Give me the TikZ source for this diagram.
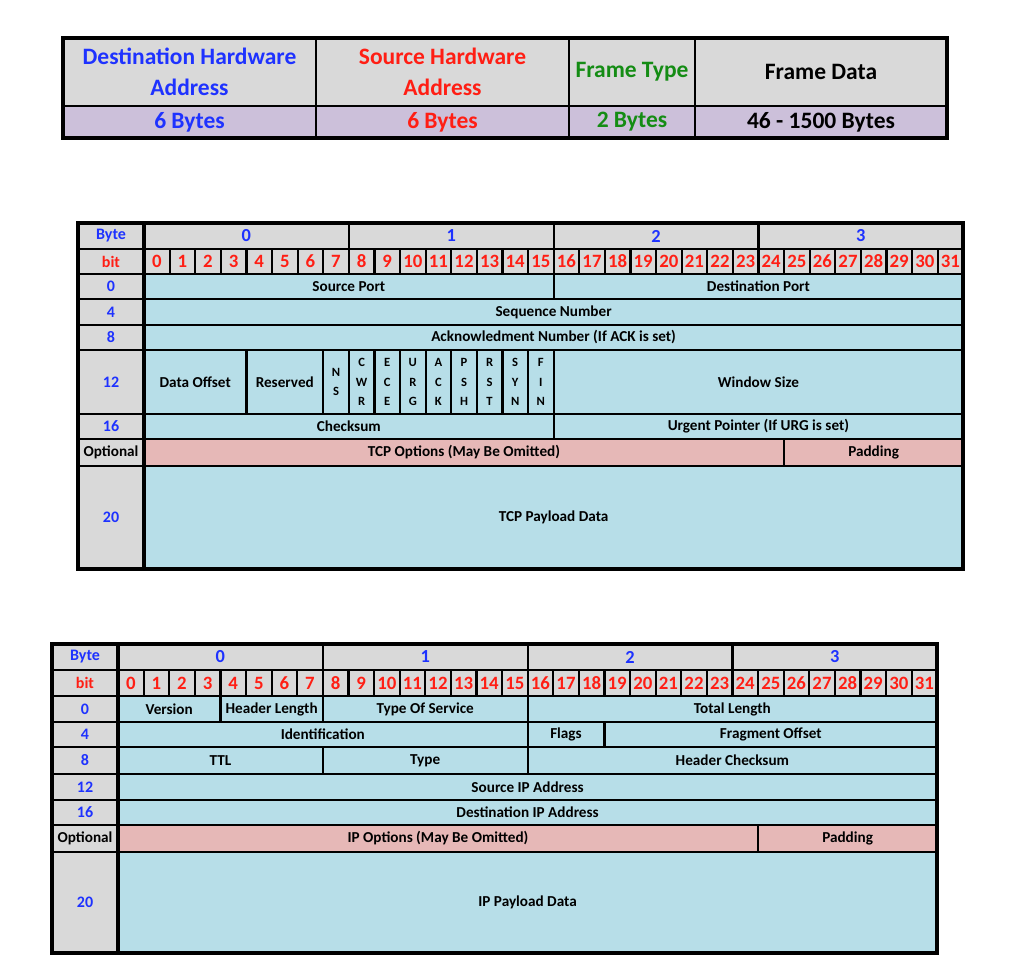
\documentclass[tikz,border=0pt]{standalone}
\usepackage{fontspec}
\setmainfont{Carlito}
\usepackage{tikz}
\definecolor{hdrgray}{HTML}{D9D9D9}
\definecolor{lilac}{HTML}{CCC0DA}
\definecolor{fieldblue}{HTML}{B7DEE8}
\definecolor{optpink}{HTML}{E6B8B7}
\definecolor{numblue}{RGB}{30,50,255}
\definecolor{numred}{RGB}{255,30,20}
\definecolor{typegreen}{RGB}{20,140,20}
\tikzstyle{cell} = [rectangle, draw=black, line width=1.1pt, inner sep=0pt, outer sep=0pt, text centered, font=\bfseries\fontsize{7.6}{9}\selectfont]
\tikzstyle{hdr} = [cell, fill=hdrgray]
\tikzstyle{fld} = [cell, fill=fieldblue]
\tikzstyle{opt} = [cell, fill=optpink]
\tikzstyle{bitnum} = [hdr, text=numred, font=\bfseries\fontsize{9.4}{10}\selectfont]
\tikzstyle{bytenum} = [hdr, text=numblue, font=\bfseries\fontsize{9.2}{10}\selectfont]
\tikzstyle{rowlbl} = [hdr, text=numblue, font=\bfseries\fontsize{8}{9}\selectfont]
\tikzstyle{flag} = [fld, align=center, font=\bfseries\fontsize{6.3}{9.75}\selectfont]
\tikzstyle{ethcell} = [rectangle, draw=black, line width=1.3pt, inner sep=0pt, outer sep=0pt, align=center, font=\bfseries\fontsize{11.75}{15.5}\selectfont]
\tikzstyle{border} = [draw=black, line width=1.8pt]
% field spanning bits #2 to #3, rows #4 to #5 (pixel y)
\newcommand{\bitfield}[7]{\node[#6, minimum width={(#3-#2)*12.8pt}, minimum height={(#5-#4)*0.5pt}] (#1) at ({(#2+#3)*12.8},{(#4+#5)/2}) {#7};}
% cell of the left column
\newcommand{\rowlabel}[5]{\node[#4, minimum width=33pt, minimum height={(#3-#2)*0.5pt}] (#1) at (-33,{(#2+#3)/2}) {#5};}

\begin{document}
\begin{tikzpicture}[x=0.5pt, y=-0.5pt]
            \useasboundingbox[fill=white] (0,0) rectangle (1024,975);
            % ethernet frame
            \node(dsthw)[ethcell, fill=hdrgray, text=numblue, minimum width=126.5pt, minimum height=34pt] at (189.5,72) {Destination Hardware\\Address};
            \node(srchw)[ethcell, fill=hdrgray, text=numred, minimum width=126.5pt, minimum height=34pt] at (442.5,72) {Source Hardware\\Address};
            \node(ftype)[ethcell, fill=hdrgray, text=typegreen, minimum width=63pt, minimum height=34pt] at (632,72) {Frame Type};
            \node(fdata)[ethcell, fill=hdrgray, text=black, minimum width=126pt, minimum height=34pt] at (821,72) {Frame Data};
            \node(dsthwlen)[ethcell, fill=lilac, text=numblue, minimum width=126.5pt, minimum height=16pt] at (189.5,122) {6 Bytes};
            \node(srchwlen)[ethcell, fill=lilac, text=numred, minimum width=126.5pt, minimum height=16pt] at (442.5,122) {6 Bytes};
            \node(ftypelen)[ethcell, fill=lilac, text=typegreen, minimum width=63pt, minimum height=16pt] at (632,122) {2 Bytes};
            \node(fdatalen)[ethcell, fill=lilac, text=black, minimum width=126pt, minimum height=16pt] at (821,122) {46 - 1500 Bytes};
            \draw[border] (dsthw.north west) rectangle (fdatalen.south east);

            % TCP header
            \begin{scope}[shift={(144,0)}]
            \rowlabel{tbytelbl}{223}{249}{rowlbl}{Byte}
            \rowlabel{tbitlbl}{249}{274}{rowlbl, text=numred}{bit}
            \rowlabel{tr0}{274}{299}{rowlbl}{0}
            \rowlabel{tr4}{299}{325}{rowlbl}{4}
            \rowlabel{tr8}{325}{350}{rowlbl}{8}
            \rowlabel{tr12}{350}{414}{rowlbl}{12}
            \rowlabel{tr16}{414}{439}{rowlbl}{16}
            \rowlabel{tropt}{439}{466}{hdr}{Optional}
            \rowlabel{tr20}{466}{569}{rowlbl}{20}
            \foreach \n in {0,...,3}
                \bitfield{tbyte\n}{8*\n}{8*\n+8}{223}{249}{bytenum}{\n};
            \foreach \b in {0,...,31}
                \bitfield{tbit\b}{\b}{\b+1}{249}{274}{bitnum}{\b};
            \bitfield{srcport}{0}{16}{274}{299}{fld}{Source Port}
            \bitfield{dstport}{16}{32}{274}{299}{fld}{Destination Port}
            \bitfield{seqnum}{0}{32}{299}{325}{fld}{Sequence Number}
            \bitfield{acknum}{0}{32}{325}{350}{fld}{Acknowledment Number (If ACK is set)}
            \bitfield{doff}{0}{4}{350}{414}{fld}{Data Offset}
            \bitfield{resv}{4}{7}{350}{414}{fld}{Reserved}
            \bitfield{fns}{7}{8}{350}{414}{flag}{N\\S}
            \bitfield{fcwr}{8}{9}{350}{414}{flag}{C\\W\\R}
            \bitfield{fece}{9}{10}{350}{414}{flag}{E\\C\\E}
            \bitfield{furg}{10}{11}{350}{414}{flag}{U\\R\\G}
            \bitfield{fack}{11}{12}{350}{414}{flag}{A\\C\\K}
            \bitfield{fpsh}{12}{13}{350}{414}{flag}{P\\S\\H}
            \bitfield{frst}{13}{14}{350}{414}{flag}{R\\S\\T}
            \bitfield{fsyn}{14}{15}{350}{414}{flag}{S\\Y\\N}
            \bitfield{ffin}{15}{16}{350}{414}{flag}{F\\I\\N}
            \bitfield{winsize}{16}{32}{350}{414}{fld}{Window Size}
            \bitfield{tcsum}{0}{16}{414}{439}{fld}{Checksum}
            \bitfield{urgptr}{16}{32}{414}{439}{fld}{Urgent Pointer (If URG is set)}
            \bitfield{tcpopts}{0}{25}{439}{466}{opt}{TCP Options (May Be Omitted)}
            \bitfield{tpad}{25}{32}{439}{466}{opt}{Padding}
            \bitfield{tcpdata}{0}{32}{466}{569}{fld}{TCP Payload Data}
            \draw[border] (tbytelbl.north west) rectangle (tcpdata.south east);
            \draw[border] (tbytelbl.north east) -- (tr20.south east);
            \end{scope}

            % IP header
            \begin{scope}[shift={(118,0)}]
            \rowlabel{ibytelbl}{644}{670}{rowlbl}{Byte}
            \rowlabel{ibitlbl}{670}{696}{rowlbl, text=numred}{bit}
            \rowlabel{ir0}{696}{722}{rowlbl}{0}
            \rowlabel{ir4}{722}{747}{rowlbl}{4}
            \rowlabel{ir8}{747}{774}{rowlbl}{8}
            \rowlabel{ir12}{774}{800}{rowlbl}{12}
            \rowlabel{ir16}{800}{825}{rowlbl}{16}
            \rowlabel{iropt}{825}{852}{hdr}{Optional}
            \rowlabel{ir20}{852}{953}{rowlbl}{20}
            \foreach \n in {0,...,3}
                \bitfield{ibyte\n}{8*\n}{8*\n+8}{644}{670}{bytenum}{\n};
            \foreach \b in {0,...,31}
                \bitfield{ibit\b}{\b}{\b+1}{670}{696}{bitnum}{\b};
            \bitfield{ver}{0}{4}{696}{722}{fld}{Version}
            \bitfield{hlen}{4}{8}{696}{722}{fld}{Header Length}
            \bitfield{tos}{8}{16}{696}{722}{fld}{Type Of Service}
            \bitfield{totlen}{16}{32}{696}{722}{fld}{Total Length}
            \bitfield{ident}{0}{16}{722}{747}{fld}{Identification}
            \bitfield{flags}{16}{19}{722}{747}{fld}{Flags}
            \bitfield{fragoff}{19}{32}{722}{747}{fld}{Fragment Offset}
            \bitfield{ttl}{0}{8}{747}{774}{fld}{TTL}
            \bitfield{proto}{8}{16}{747}{774}{fld}{Type}
            \bitfield{hcsum}{16}{32}{747}{774}{fld}{Header Checksum}
            \bitfield{srcip}{0}{32}{774}{800}{fld}{Source IP Address}
            \bitfield{dstip}{0}{32}{800}{825}{fld}{Destination IP Address}
            \bitfield{ipopts}{0}{25}{825}{852}{opt}{IP Options (May Be Omitted)}
            \bitfield{ipad}{25}{32}{825}{852}{opt}{Padding}
            \bitfield{ipdata}{0}{32}{852}{953}{fld}{IP Payload Data}
            \draw[border] (ibytelbl.north west) rectangle (ipdata.south east);
            \draw[border] (ibytelbl.north east) -- (ir20.south east);
            \end{scope}
        \end{tikzpicture}
\end{document}
